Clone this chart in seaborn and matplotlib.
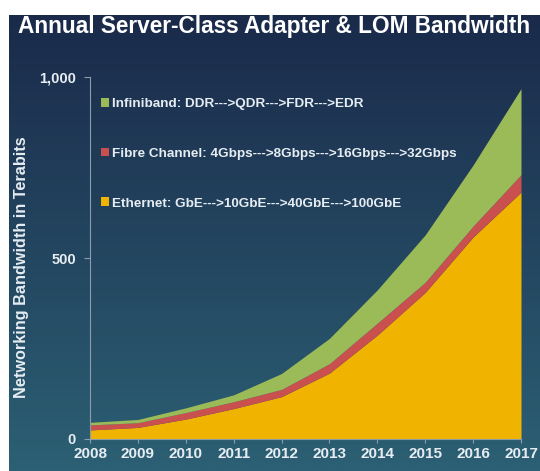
import numpy as np
import pandas as pd
import matplotlib
matplotlib.use("Agg")
import matplotlib.pyplot as plt
from matplotlib.patches import Patch
import seaborn as sns

# values (terabits per year, per technology)
years = [2008, 2009, 2010, 2011, 2012, 2013, 2014, 2015, 2016, 2017]
ethernet = [25, 32, 55, 84, 117, 182, 287, 405, 558, 682]
fibre_channel = [14, 13, 18, 19, 20, 26, 33, 28, 30, 48]
infiniband = [7, 9, 13, 19, 44, 70, 92, 131, 169, 238]

series_names = ["Ethernet: GbE--->10GbE--->40GbE--->100GbE",
                "Fibre Channel: 4Gbps--->8Gbps--->16Gbps--->32Gbps",
                "Infiniband: DDR--->QDR--->FDR--->EDR"]
series_colors = ["#f0b400", "#c9504e", "#9bbb59"]
ytick_vals = [0, 500, 1000]
ytick_labels = ["0", "500", "1,000"]

df = pd.DataFrame({"year": years, "Ethernet": ethernet,
                   "Fibre Channel": fibre_channel, "Infiniband": infiniband})

sns.set_theme(style="white")
plt.rcParams["font.family"] = ["Liberation Sans", "DejaVu Sans"]

W, H = 540, 471
fig = plt.figure(figsize=(W / 100, H / 100), dpi=100)
fig.patch.set_facecolor("white")

# slide background gradient
bg = fig.add_axes([9 / W, 0, 1 - 9 / W, 1 - 15 / H], zorder=-10)
top_c = np.array([26, 42, 74]) / 255
bot_c = np.array([44, 96, 116]) / 255
t = np.linspace(0, 1, 256)[:, None]
grad = (top_c[None, :] * (1 - t) + bot_c[None, :] * t)[:, None, :]
bg.imshow(grad, aspect="auto", extent=[0, 1, 0, 1])
bg.set_axis_off()

ax = fig.add_axes([90 / W, 1 - 439 / H, (521 - 90) / W, (439 - 77) / H])
ax.set_facecolor("none")

ax.stackplot(df["year"], df["Ethernet"], df["Fibre Channel"], df["Infiniband"],
             colors=series_colors, linewidth=0)

ax.set_xlim(2008, 2017)
ax.set_ylim(0, 1000)
ax.set_xticks(years)
ax.set_xticklabels([str(y) for y in years])
ax.set_yticks(ytick_vals)
ax.set_yticklabels(ytick_labels)

light = "#e6edf2"
axis_c = "#8d9cab"
for side in ["top", "right"]:
    ax.spines[side].set_visible(False)
for side in ["left", "bottom"]:
    ax.spines[side].set_visible(True)
    ax.spines[side].set_color(axis_c)
    ax.spines[side].set_linewidth(0.8)

ax.tick_params(axis="x", which="major", direction="out", length=3, width=0.8,
               color=axis_c, pad=3, labelsize=11, labelcolor=light)
ax.tick_params(axis="y", which="major", direction="out", length=4, width=0.8,
               color=axis_c, pad=6, labelsize=10.5, labelcolor=light)
ax.tick_params(left=True, bottom=True)
for lab in ax.get_xticklabels() + ax.get_yticklabels():
    lab.set_fontweight("bold")

fig.text(22 / W, 1 - 267 / H, "Networking Bandwidth in Terabits", rotation=90,
         ha="center", va="center", color=light, fontsize=11.7, fontweight="bold")

fig.text(274 / W, 1 - 27 / H, "Annual Server-Class Adapter & LOM Bandwidth",
         ha="center", va="center", color="white", fontsize=16.3, fontweight="bold")

handles = [Patch(facecolor=c, edgecolor="none") for c in series_colors[::-1]]
leg = ax.legend(handles, series_names[::-1], loc="upper left",
                bbox_to_anchor=(101 / W, 1 - 98 / H), bbox_transform=fig.transFigure,
                frameon=False, handlelength=0.6, handleheight=0.6,
                handletextpad=0.25, labelspacing=2.8, borderpad=0,
                borderaxespad=0, fontsize=9.7)
for txt in leg.get_texts():
    txt.set_color(light)
    txt.set_fontweight("bold")

fig.savefig("out.png", dpi=100)
